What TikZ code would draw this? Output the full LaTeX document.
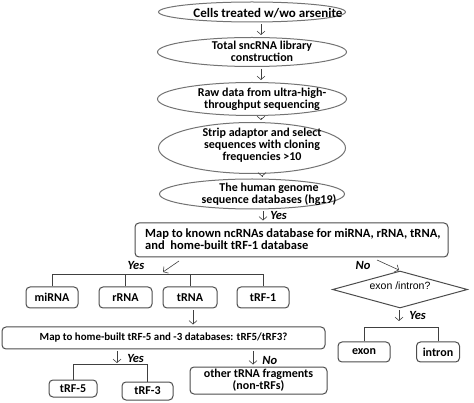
\documentclass[tikz,border=0pt]{standalone}
\usepackage{fontspec}
\setmainfont{Carlito}
\newfontfamily\plainsans{Liberation Sans}
\usetikzlibrary{shapes.geometric,arrows.meta}

\tikzset{
	oval/.style={draw=black!55, line width=1pt, ellipse, inner sep=0pt},
	stepbox/.style={draw=black!70, line width=1pt, rectangle, rounded corners=4pt, inner sep=0pt},
	txt/.style={font=\bfseries\fontsize{12}{12}\selectfont, align=center, inner sep=0pt},
	answer/.style={font=\bfseries\itshape\fontsize{12.5}{12}\selectfont, inner sep=0pt},
	flow/.style={draw=black!75, line width=0.6pt, -{Straight Barb[length=3.5pt,width=8pt]}, shorten <=2pt, shorten >=2pt},
	branch/.style={draw=black!75, line width=0.6pt},
}

\begin{document}
\begin{tikzpicture}[x=1pt, y=-1pt]
	\useasboundingbox (0,0) rectangle (474,403);

	% Pipeline ellipses
	\draw (252,12) node[oval, minimum width=187pt, minimum height=20pt] (cells) {} ;
	\draw (252,52) node[oval, minimum width=189pt, minimum height=29pt] (library) {} ;
	\draw (252,99) node[oval, minimum width=189pt, minimum height=33pt] (rawdata) {} ;
	\draw (252,148) node[oval, minimum width=187pt, minimum height=51pt] (strip) {} ;
	\draw (252,194) node[oval, minimum width=185pt, minimum height=30pt] (genome) {} ;
	\draw (268,13) node[txt, font=\bfseries\fontsize{13}{13}\selectfont] (cellstxt) {Cells treated w/wo arsenite};
	\draw (262,51) node[txt] (librarytxt) {Total sncRNA library\\construction};
	\draw (262,99) node[txt] (rawdatatxt) {Raw data from ultra-high-\\throughput sequencing};
	\draw (262,145) node[txt] (striptxt) {Strip adaptor and select\\sequences with cloning\\frequencies >10};
	\draw (269,194) node[txt] (genometxt) {The human genome\\sequence databases (hg19)};

	% Mapping boxes
	\draw (291.5,240) node[stepbox, minimum width=313pt, minimum height=34pt] (known) {} ;
	\draw (145,239) node[txt, anchor=west, align=left, font=\bfseries\fontsize{12.5}{12}\selectfont] (knowntxt) {Map to known ncRNAs database for miRNA, rRNA, tRNA,\\and~~home-built tRF-1 database};
	\draw (163.5,338) node[stepbox, minimum width=323pt, minimum height=22pt] (trfmap) {} ;
	\draw (163.5,338) node[txt, font=\bfseries\fontsize{10.9}{12}\selectfont] (trfmaptxt) {Map to home-built tRF-5 and -3 databases: tRF5/tRF3?};

	% ncRNA classes
	\draw (52,297.5) node[stepbox, txt, minimum width=52pt, minimum height=21pt] (mirna) {miRNA};
	\draw (125.5,297.5) node[stepbox, txt, minimum width=53pt, minimum height=21pt] (rrna) {rRNA};
	\draw (190,297.5) node[stepbox, txt, minimum width=54pt, minimum height=21pt] (trna) {tRNA};
	\draw (263,297.5) node[stepbox, txt, minimum width=52pt, minimum height=21pt] (trf1) {tRF-1};

	% tRF classes
	\draw (73,388.5) node[stepbox, txt, minimum width=48pt, minimum height=17pt] (trf5) {tRF-5};
	\draw (147.5,391) node[stepbox, txt, minimum width=51pt, minimum height=18pt] (trf3) {tRF-3};
	\draw (258.5,380.5) node[stepbox, txt, minimum width=137pt, minimum height=27pt] (other) {other tRNA fragments\\(non-tRFs)};

	% exon / intron
	\draw (400,289.5) node[draw=black!70, line width=1pt, diamond, inner sep=0pt, minimum width=135pt, minimum height=37pt] (exin) {} ;
	\draw (400,286) node[txt, font=\plainsans\fontsize{10.5}{11.5}\selectfont] (exintxt) {exon /intron?};
	\draw (364,352) node[stepbox, txt, minimum width=52pt, minimum height=20pt] (exon) {exon};
	\draw (438,352) node[stepbox, txt, minimum width=43pt, minimum height=20pt] (intron) {intron};

	% free ends and branch points
	\coordinate (yesfrom) at (179,261);
	\coordinate (yesto) at (163,272);
	\coordinate (nofrom) at (377,260);
	\coordinate (hub) at (160,274);
	\coordinate (trfhub) at (117,364);
	\coordinate (exhub) at (400,327);
	\coordinate (exarrow) at (399,321);

	% arrows down the pipeline
	\draw[flow] (cells.south -| 261,0) -- (library.north -| 261,0);
	\draw[flow] (library.south -| 261,0) -- (rawdata.north -| 261,0);
	\draw[flow] (rawdata.south -| 261,0) -- (strip.north -| 261,0);
	\draw[flow] (strip.south -| 262,0) -- (genome.north -| 262,0);
	\draw[flow] (genome.south -| 263,0) -- node[answer, right, xshift=7pt, yshift=1pt] (yes1) {Yes} (known.north -| 263,0);
	\draw[flow, shorten <=0pt, shorten >=0pt] (yesfrom) -- (yesto);
	\draw (136,265) node[answer] (yes2) {Yes};
	\draw[flow, shorten <=0pt, shorten >=1pt] (nofrom) -- (exin.north);
	\draw (363,265) node[answer] (no1) {No};
	\draw[flow] (trna.south -| 193,0) -- (trfmap.north -| 193,0);
	\draw[flow, shorten >=0pt] (trfmap.south -| trfhub) -- node[answer, right, xshift=10pt, yshift=-2pt] (yes3) {Yes} ([yshift=1pt]trfhub);
	\draw[flow] (trfmap.south -| 253,0) -- node[answer, right, xshift=9pt, yshift=-2pt] (no2) {No} (other.north -| 253,0);
	\draw[flow, shorten >=0pt] (exin.south -| exarrow) -- node[answer, right, xshift=10pt, yshift=-1pt] (yes4) {Yes} (exarrow);

	% branches
	\draw[branch] (mirna.north) -- (mirna.north |- hub) -- (trf1.north |- hub) -- (trf1.north);
	\draw[branch] (rrna.north) -- (rrna.north |- hub);
	\draw[branch] (trna.north) -- (trna.north |- hub);
	\draw[branch] (trf5.north) -- (trf5.north |- trfhub) -- (trf3.north |- trfhub) -- (trf3.north);
	\draw[branch] (exon.north) -- (exon.north |- exhub) -- (intron.north |- exhub) -- (intron.north);

\end{tikzpicture}
\end{document}
